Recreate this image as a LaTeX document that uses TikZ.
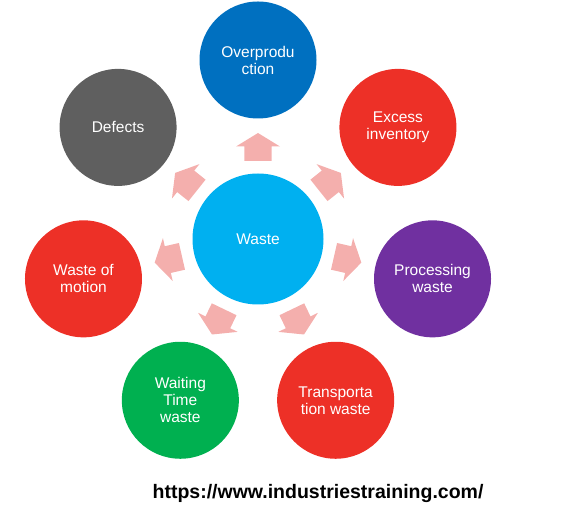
\documentclass[tikz,border=0pt]{standalone}
\usepackage{fontspec}
\setmainfont{Liberation Sans}
\definecolor{ovblue}{HTML}{0070C0}
\definecolor{wred}{HTML}{ED3027}
\definecolor{wpurple}{HTML}{7030A0}
\definecolor{wgreen}{HTML}{00B050}
\definecolor{wgray}{HTML}{5F5F5F}
\definecolor{wcyan}{HTML}{00B0F0}
\definecolor{arrowpink}{HTML}{F4AFAD}
\begin{document}
\begin{tikzpicture}[x=1pt,y=1pt,
  bubble/.style={circle, minimum size=117pt, inner sep=0pt, text=white, align=center,
    font=\fontsize{15.5}{17}\selectfont},
  blockarrow/.style={fill=arrowpink}]
\useasboundingbox (-258,239) rectangle (311,-282);
\node[bubble, fill=wcyan, minimum size=131pt] (waste) at (0,0) {Waste};
\node[bubble, fill=ovblue] (over) at (90:179) {Overprodu\\ction};
\node[bubble, fill=wred] (excess) at (38.571:179) {Excess\\inventory};
\node[bubble, fill=wpurple] (proc) at (-12.857:179) {Processing\\waste};
\node[bubble, fill=wred] (trans) at (-64.286:179) {Transporta\\tion waste};
\node[bubble, fill=wgreen] (wait) at (-115.714:179) {Waiting\\Time\\waste};
\node[bubble, fill=wred] (motion) at (-167.143:179) {Waste of\\motion};
\node[bubble, fill=wgray] (defects) at (141.429:179) {Defects};
\foreach \a in {90,38.571,-12.857,-64.286,-115.714,-167.143,141.429} {
  \fill[blockarrow, rotate=\a] (78,-13.7) -- (92.5,-13.7) -- (92.5,-22) -- (106,0)
    -- (92.5,22) -- (92.5,13.7) -- (78,13.7) -- cycle;
}
\node[font=\bfseries\fontsize{19.5}{22}\selectfont, text=black] (url) at (60,-254)
  {https://www.industriestraining.com/};
\end{tikzpicture}
\end{document}
